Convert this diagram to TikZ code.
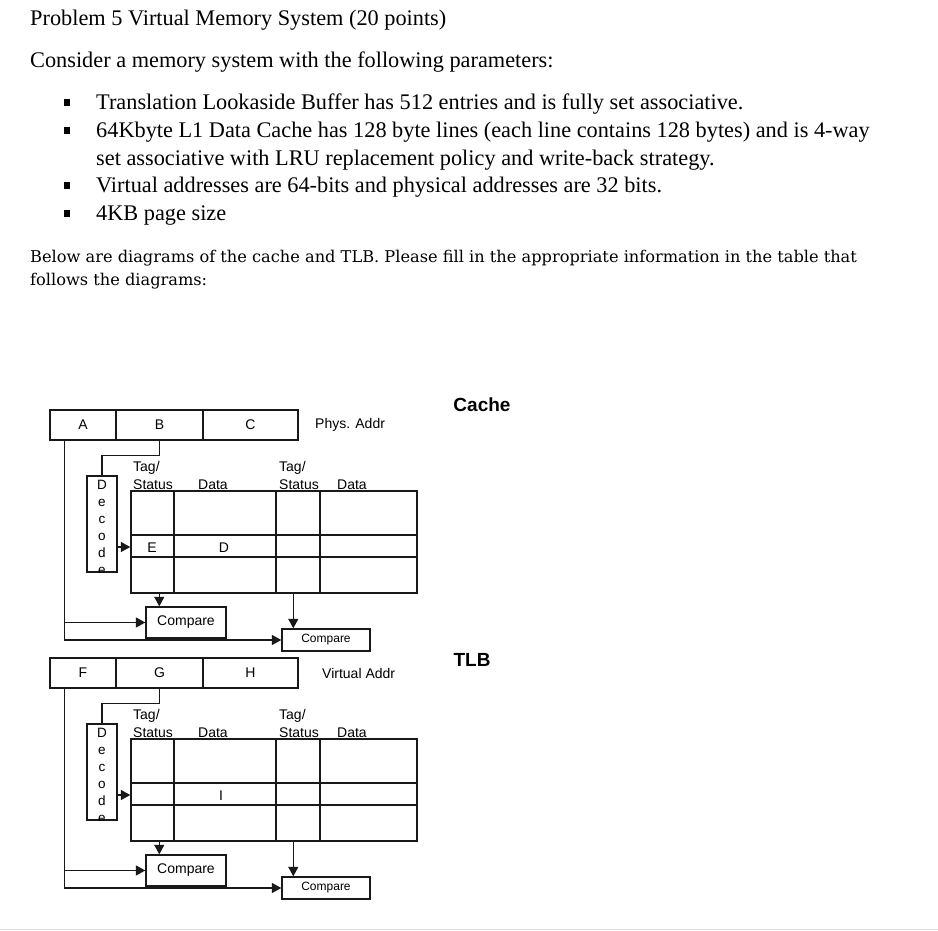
\documentclass[tikz,border=0pt]{standalone}
\usepackage{fontspec}
\setmainfont{Liberation Serif}
\setsansfont{Liberation Sans}
\newfontfamily\notefamily{DejaVu Serif}
\usetikzlibrary{arrows.meta,positioning,calc}
\newcommand\diagfont{\sffamily\fontsize{14}{16}\selectfont}
\newcommand\cmpfont{\sffamily\fontsize{12}{14}\selectfont}
\newcommand\bodyfont{\rmfamily\fontsize{22.3}{24}\selectfont}
\newcommand\notefont{\notefamily\fontsize{16.2}{24}\selectfont}
\tikzset{
  body/.style={anchor=base west, inner sep=0pt, font=\bodyfont},
  note/.style={anchor=base west, inner sep=0pt, font=\notefont},
  bul/.style={rectangle, fill=black, minimum width=6pt, minimum height=7pt, inner sep=0pt},
  field/.style={rectangle, draw=black!90, line width=1.4pt, minimum height=30pt, inner sep=0pt, font=\diagfont},
  grid/.style={draw=black!90, line width=1.4pt},
  decbox/.style={rectangle, draw=black!90, line width=1.4pt, minimum width=30pt, minimum height=96pt, inner sep=0pt},
  declet/.style={anchor=base, inner sep=0pt, font=\sffamily\fontsize{13.5}{15}\selectfont},
  cmpbig/.style={rectangle, draw=black!90, line width=1.4pt, minimum width=80pt, minimum height=31pt, inner sep=0pt, font=\diagfont},
  cmpsmall/.style={rectangle, draw=black!90, line width=1.4pt, minimum width=88pt, minimum height=22pt, inner sep=0pt, font=\cmpfont},
  lbl/.style={inner sep=0pt, font=\diagfont},
  hdr/.style={anchor=base west, inner sep=0pt, font=\diagfont},
  sect/.style={inner sep=0pt, font=\sffamily\bfseries\fontsize{19}{22}\selectfont},
  wire/.style={draw=black!90, line width=1.4pt},
  arr/.style={wire, -{Triangle[length=9.5pt,width=10pt]}},
}
\begin{document}
\begin{tikzpicture}[x=1pt,y=-1pt]
  \fill[white] (0,0) rectangle (938,931);
  \useasboundingbox (0,0) rectangle (938,931);
  % problem text
  \node[body] (title) at (30,26) {Problem 5 Virtual Memory System (20 points)};
  \node[body] (intro) at (30,68) {Consider a memory system with the following parameters:};
  \node[bul] (b1) at (66.5,103) {};
  \node[body] (t1) at (96,110) {Translation Lookaside Buffer has 512 entries and is fully set associative.};
  \node[bul] (b2) at (66.5,131) {};
  \node[body] (t2) at (96,138) {64Kbyte L1 Data Cache has 128 byte lines (each line contains 128 bytes) and is 4-way};
  \node[body] (t2b) at (96,166) {set associative with LRU replacement policy and write-back strategy.};
  \node[bul] (b3) at (66.5,186) {};
  \node[body] (t3) at (96,193) {Virtual addresses are 64-bits and physical addresses are 32 bits.};
  \node[bul] (b4) at (66.5,214) {};
  \node[body] (t4) at (96,221) {4KB page size};
  \node[note] (below) at (30,262) {Below are diagrams of the cache and TLB. Please fill in the appropriate information in the table that};
  \node[note] (below2) at (30,285) {follows the diagrams:};
  % section titles
  \node[sect] (cache) at (482,405) {Cache};
  \node[sect] (tlb) at (472,660) {TLB};
  % cache and TLB diagrams
  \foreach \s/\dy/\la/\lb/\lc/\addr/\ax in {c/0/A/B/C/{Phys. Addr}/315, t/248/F/G/H/{Virtual Addr}/322} {
    \node[field, minimum width=66pt] (fA\s) at (83,425+\dy) {\la};
    \node[field, minimum width=87pt] (fB\s) at (159.5,425+\dy) {\lb};
    \node[field, minimum width=95pt] (fC\s) at (250.5,425+\dy) {\lc};
    \node[lbl, anchor=west] (addr\s) at (\ax,425+\dy) {\addr};
    % decoder
    \node[decbox] (dec\s) at (102,524+\dy) {};
    \begin{scope}
      \clip (dec\s.south west) rectangle (dec\s.north east);
      \foreach \ch [count=\k] in {D,e,c,o,d,e}
        \node[declet] (dl\s\k) at (102,489+17*\k-17+\dy) {\ch};
    \end{scope}
    % tag/data array
    \node[grid, rectangle, minimum width=286pt, minimum height=102pt, inner sep=0pt] (tbl\s) at (274,542+\dy) {};
    \foreach \xx in {174,276,320}
      \draw[grid] (\xx,491+\dy) -- (\xx,593+\dy);
    \foreach \yy in {535,557}
      \draw[grid] (131,\yy+\dy) -- (417,\yy+\dy);
    \node[hdr] (tg1\s) at (133,471+\dy) {Tag/};
    \node[hdr] (st1\s) at (133,489+\dy) {Status};
    \node[hdr] (dt1\s) at (198,489+\dy) {Data};
    \node[hdr] (tg2\s) at (279,471+\dy) {Tag/};
    \node[hdr] (st2\s) at (279,489+\dy) {Status};
    \node[hdr] (dt2\s) at (337,489+\dy) {Data};
    % comparators
    \node[cmpbig] (cmpA\s) at (186,622.5+\dy) {Compare};
    \node[cmpsmall] (cmpB\s) at (326,640+\dy) {Compare};
    % wires
    \coordinate (row\s) at (0,547+\dy);
    \coordinate (kA\s) at ([xshift=14pt]cmpA\s.north west);
    \coordinate (kB\s) at ([xshift=12pt]cmpB\s.north west);
    \draw[arr] ([xshift=15pt]fA\s.south west) |- (cmpA\s.west);
    \draw[arr] ([xshift=15pt]fA\s.south west) |- (cmpB\s.west);
    \draw[wire] (fB\s.south) -- ++(0,15) -| (dec\s.north);
    \draw[arr] (dec\s.east |- row\s) -- (tbl\s.west |- row\s);
    \draw[arr] (kA\s |- tbl\s.south) -- (kA\s);
    \draw[arr] (kB\s |- tbl\s.south) -- (kB\s);
  }
  % row contents
  \node[lbl] (cE) at (152,548) {E};
  \node[lbl] (cD) at (224,548) {D};
  \node[lbl] (tI) at (221,796) {I};
  % bottom rule
  \draw[black!12, line width=1.5pt] (0,929.5) -- (938,929.5);
\end{tikzpicture}
\end{document}
